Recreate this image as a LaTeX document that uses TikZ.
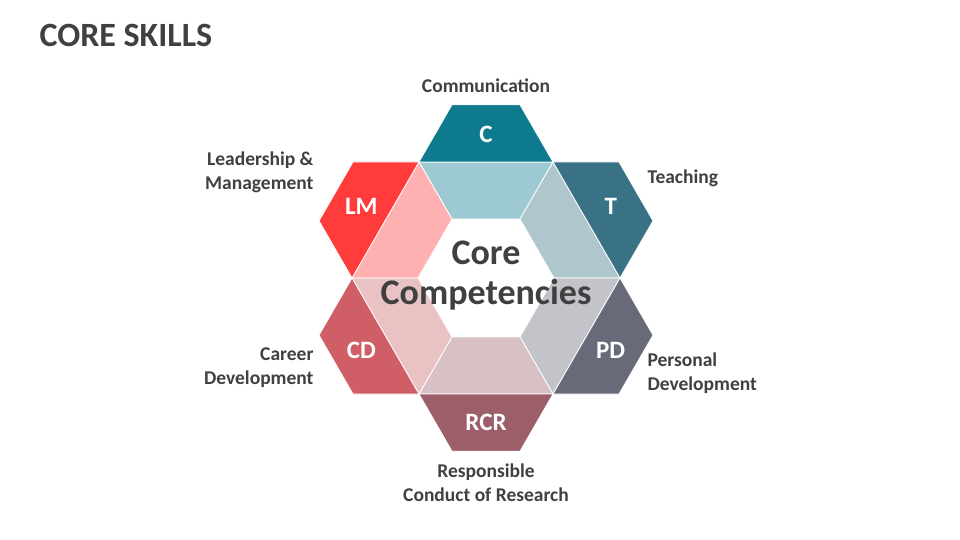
\documentclass[tikz,border=0pt]{standalone}
\usepackage{fontspec}
\setmainfont{Carlito}
\begin{document}
\begin{tikzpicture}[x=1pt,y=-1pt,
  lab/.style={font=\bfseries\fontsize{19.5}{24}\selectfont,text=black!75,align=center},
  abbr/.style={font=\bfseries\fontsize{25}{28}\selectfont,text=white},
  piece/.style={draw=white,line width=0.8pt}]
\useasboundingbox[fill=white] (0,0) rectangle (960,540);
\node[anchor=west,font=\bfseries\fontsize{34}{38}\selectfont,text=black!75] (title) at (36,35) {CORE SKILLS};
\definecolor{dC}{HTML}{0E7A8E}\definecolor{lC}{HTML}{9DCAD2}
\definecolor{dT}{HTML}{3A7285}\definecolor{lT}{HTML}{AEC6CC}
\definecolor{dPD}{HTML}{686A7A}\definecolor{lPD}{HTML}{C3C4CA}
\definecolor{dR}{HTML}{9C5F6A}\definecolor{lR}{HTML}{D8C1C5}
\definecolor{dCD}{HTML}{CF5E66}\definecolor{lCD}{HTML}{E9C2C4}
\definecolor{dLM}{HTML}{FF3B3B}\definecolor{lLM}{HTML}{FFB0B0}
\begin{scope}[shift={(486,278)},y=1pt]
\foreach \a/\d/\l/\t in {90/dC/lC/C,30/dT/lT/T,-30/dPD/lPD/PD,-90/dR/lR/RCR,210/dCD/lCD/CD,150/dLM/lLM/LM}{
  \fill[\l,piece] (\a-30:68) -- (\a+30:68) -- (\a+30:134) -- (\a-30:134) -- cycle;
  \fill[\d,piece] (\a-30:134) -- (\a+30:134) -- ([shift={(\a:114.3)}]\a+30:68) -- ([shift={(\a:114.3)}]\a-30:68) -- cycle;
  \node[abbr] (n\t) at (\a:144) {\t};
}
\end{scope}
\node[font=\bfseries\fontsize{36}{40}\selectfont,text=black!75,align=center] (core) at (486,276) {Core\\Competencies};
\node[lab] (lc) at (486,86) {Communication};
\node[lab,anchor=west] (lt) at (644,178) {Teaching};
\node[lab,anchor=east,align=right] (llm) at (317,172) {Leadership \&\\Management};
\node[lab,anchor=east,align=right] (lcd) at (317,368) {Career\\Development};
\node[lab,anchor=west,align=left] (lpd) at (644,373) {Personal\\Development};
\node[lab] (lr) at (486,483) {Responsible\\Conduct of Research};
\end{tikzpicture}
\end{document}
